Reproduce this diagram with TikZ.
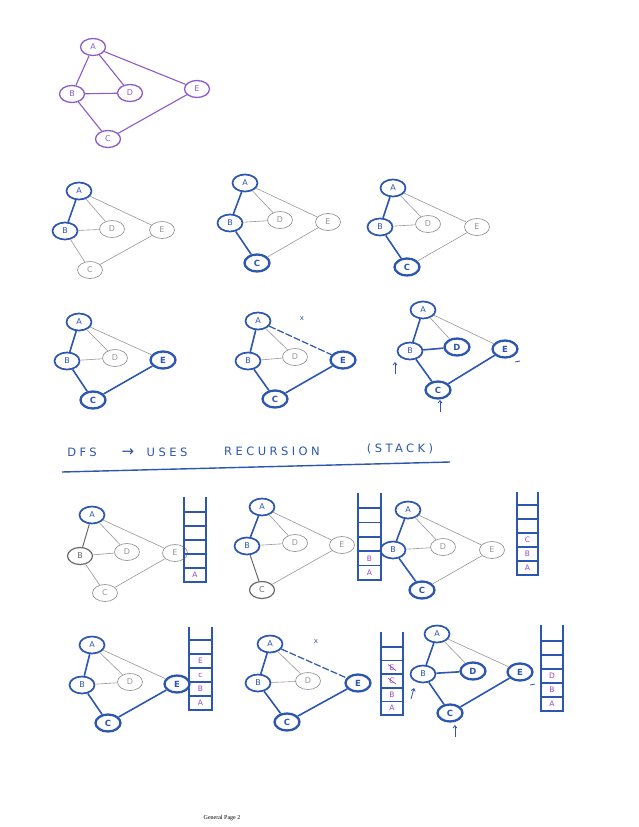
\documentclass[tikz,border=0pt]{standalone}
\usepackage{fontspec}
\setsansfont{DejaVu Sans}
\setmainfont{Liberation Serif}
\newfontfamily\hand[LetterSpace=30]{DejaVu Sans}
\usetikzlibrary{shapes.geometric,arrows.meta}
\definecolor{pblue}{RGB}{44,86,176}
\definecolor{ppurple}{RGB}{140,92,200}
\definecolor{spurple}{RGB}{150,70,200}
\definecolor{lgray}{RGB}{150,150,150}
\definecolor{dgray}{RGB}{105,105,105}
\newcommand\gr[3]{%
  \foreach \n/\x/\y/\s in {#2} \node[\s] (#1\n) at (\x,\y) {\n};
  \foreach \a/\b/\s in {#3} \draw[\s] (#1\a) -- (#1\b);}
\newcommand\ladder[5]{%
  \draw[lad] (#1,#3) -- (#1,#4) -- (#2,#4) -- (#2,#3);
  \foreach \k in {1,...,5} \draw[lad] (#1,#4-\k*#5) -- (#2,#4-\k*#5);}
\begin{document}
\begin{tikzpicture}[x=1pt,y=-1pt,
 nd/.style={ellipse,inner sep=0pt,minimum width=25pt,minimum height=17pt,font=\sffamily\fontsize{8}{9}\selectfont},
 pn/.style={nd,draw=ppurple,line width=1.3pt,text=ppurple},
 gn/.style={nd,draw=lgray,line width=0.7pt,text=lgray},
 dn/.style={nd,draw=dgray,line width=1.2pt,text=dgray},
 bn/.style={nd,draw=pblue,line width=1.7pt,text=pblue},
 bbn/.style={nd,draw=pblue,line width=2.3pt,text=pblue,font=\sffamily\bfseries\fontsize{8.5}{9}\selectfont},
 pe/.style={draw=ppurple,line width=1.1pt},
 ge/.style={draw=lgray,line width=0.6pt},
 de/.style={draw=dgray,line width=1pt},
 be/.style={draw=pblue,line width=1.6pt},
 xe/.style={draw=pblue,line width=1.2pt,dash pattern=on 7pt off 2pt},
 lad/.style={draw=pblue,line width=1.5pt},
 sl/.style={inner sep=0pt,text=spurple,font=\sffamily\fontsize{7.5}{8}\selectfont},
 xmark/.style={inner sep=0pt,text=pblue,font=\sffamily\fontsize{7}{8}\selectfont},
 up/.style={draw=pblue,line width=0.8pt,-{Straight Barb[length=2.5pt,width=4pt]}},
 ttl/.style={text=pblue,font=\hand\fontsize{11.5}{12}\selectfont,anchor=base,inner sep=0pt},
]
\useasboundingbox (0,0) rectangle (638,827);

% purple graph
\gr{p}{A/93/47/pn, B/72/94/pn, D/130/93/pn, E/197/89/pn, C/108/139/pn}
 {A/B/pe, A/D/pe, A/E/pe, B/D/pe, B/C/pe, C/E/pe}

% row 2
\gr{a}{A/79/191/bn, B/65/231/bn, D/112/229/gn, E/162/230/gn, C/90/270/gn}
 {A/B/be, A/D/ge, A/E/ge, B/D/ge, B/C/ge, C/E/ge}
\gr{b}{A/245/183/bn, B/230/223/bn, D/280/220/gn, E/328/222/gn, C/257/263/bbn}
 {A/B/be, A/D/ge, A/E/ge, B/D/ge, B/C/be, C/E/ge}
\gr{c}{A/393/188/bn, B/380/227/bn, D/428/224/gn, E/477/227/gn, C/407/267/bbn}
 {A/B/be, A/D/ge, A/E/ge, B/D/ge, B/C/be, C/E/ge}

% row 3
\gr{d}{A/79/322/bn, B/67/361/bn, D/115/358/gn, E/163/360/bbn, C/93/400/bbn}
 {A/B/be, A/D/ge, A/E/ge, B/D/ge, B/C/be, C/E/be}
\gr{e}{A/258/321/bn, B/248/361/bn, D/295/357/gn, E/343/360/bbn, C/275/399/bbn}
 {A/B/be, A/D/ge, A/E/xe, B/D/ge, B/C/be, C/E/be}
\node[xmark] (ex) at (302,319) {x};
\gr{f}{A/423/310/bn, B/410/351/bn, D/457/347/bbn, E/505/349/bbn, C/438/390/bbn}
 {A/B/be, A/D/ge, A/E/ge, B/D/be, B/C/be, C/E/be}
\coordinate (fu1) at (395,374); \coordinate (fu2) at (395,362);
\draw[up] (fu1) -- (fu2);
\coordinate (fu3) at (440,412); \coordinate (fu4) at (440,400);
\draw[up] (fu3) -- (fu4);
\coordinate (fm1) at (515,362); \coordinate (fm2) at (520,361);
\draw[pblue,line width=0.8pt] (fm1) -- (fm2);

% title
\node[ttl] (t1) at (82,456) {DFS};
\node[ttl,font=\sffamily\fontsize{15}{15}\selectfont] (t2) at (128,456) {→};
\node[ttl] (t3) at (167,456) {USES};
\node[ttl] (t4) at (272,455) {RECURSION};
\node[ttl] (t5) at (400,452) {(STACK)};
\coordinate (u1) at (62,472); \coordinate (u2) at (450,462);
\draw[pblue,line width=1.4pt] (u1) -- (u2);

% row 4
\gr{g}{A/92/515/bn, B/80/556/dn, D/127/552/gn, E/175/553/gn, C/105/593/gn}
 {A/B/de, A/D/ge, A/E/ge, B/D/ge, B/C/ge, C/E/ge}
\ladder{184}{206}{497}{582}{14}
\node[sl] (gsA) at (195,575) {A};

\gr{h}{A/262/507/bn, B/247/546/bn, D/295/543/gn, E/342/545/gn, C/262/590/dn}
 {A/B/be, A/D/ge, A/E/ge, B/D/ge, B/C/de, C/E/ge}
\ladder{358}{381}{493}{580}{14.4}
\node[sl] (hsA) at (369.5,573) {A};
\node[sl] (hsB) at (369.5,558.5) {B};

\gr{i}{A/408/510/bn, B/393/550/bn, D/443/547/gn, E/492/550/gn, C/422/590/bbn}
 {A/B/be, A/D/ge, A/E/ge, B/D/ge, B/C/be, C/E/ge}
\ladder{517}{538}{492}{575}{14}
\node[sl] (isA) at (527.5,568) {A};
\node[sl] (isB) at (527.5,554) {B};
\node[sl] (isC) at (527.5,540) {C};

% row 5
\gr{j}{A/92/645/bn, B/82/685/bn, D/130/682/gn, E/177/684/bbn, C/108/723/bbn}
 {A/B/be, A/D/ge, A/E/ge, B/D/ge, B/C/be, C/E/be}
\ladder{189}{212}{627}{710}{14}
\node[sl] (jsA) at (200.5,703) {A};
\node[sl] (jsB) at (200.5,689) {B};
\node[sl] (jsC) at (200.5,675) {c};
\node[sl] (jsE) at (200.5,661) {E};

\gr{k}{A/270/644/bn, B/258/683/bn, D/308/681/gn, E/358/683/bbn, C/287/722/bbn}
 {A/B/be, A/D/ge, A/E/xe, B/D/ge, B/C/be, C/E/be}
\node[xmark] (kx) at (316,642) {x};
\ladder{381}{403}{632}{715}{13.6}
\node[sl] (ksA) at (392,708) {A};
\node[sl] (ksB) at (392,694.5) {B};
\node[sl] (ksC) at (392,681) {C};
\node[sl] (ksE) at (392,667.5) {E};
\draw[spurple,line width=0.7pt] ([shift={(-4,-3)}]ksC.center) -- ([shift={(4,3)}]ksC.center);
\draw[spurple,line width=0.7pt] ([shift={(-4,-3)}]ksE.center) -- ([shift={(4,3)}]ksE.center);
\coordinate (ku1) at (411,699); \coordinate (ku2) at (414,688);
\draw[up] (ku1) -- (ku2);

\gr{l}{A/437/634/bn, B/423/674/bn, D/473/671/bbn, E/520/672/bbn, C/450/713/bbn}
 {A/B/be, A/D/ge, A/E/ge, B/D/be, B/C/be, C/E/be}
\coordinate (lu1) at (455,737); \coordinate (lu2) at (455,725);
\draw[up] (lu1) -- (lu2);
\coordinate (lm1) at (530,685); \coordinate (lm2) at (535,684);
\draw[pblue,line width=0.8pt] (lm1) -- (lm2);
\ladder{541}{563}{625}{711}{14}
\node[sl] (lsA) at (552,704) {A};
\node[sl] (lsB) at (552,690) {B};
\node[sl] (lsD) at (552,676) {D};

% footer
\node[font=\rmfamily\fontsize{6}{7}\selectfont,inner sep=0pt] (foot) at (222,818) {General Page 2};
\end{tikzpicture}
\end{document}
